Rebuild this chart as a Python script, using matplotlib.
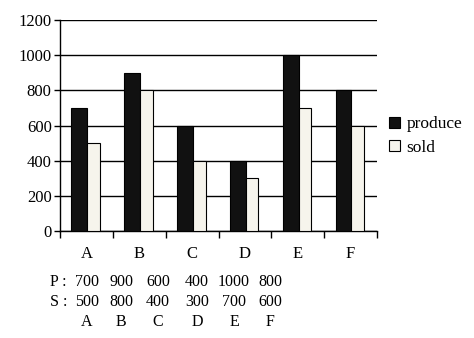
import numpy as np
import matplotlib.pyplot as plt

categories = ['A', 'B', 'C', 'D', 'E', 'F']
produce = [700, 900, 600, 400, 1000, 800]
sold = [500, 800, 400, 300, 700, 600]
yticks = [0, 200, 400, 600, 800, 1000, 1200]

plt.rcParams['font.family'] = ['Liberation Serif', 'DejaVu Serif']

fig = plt.figure(figsize=(4.74, 3.38), dpi=100)
ax = fig.add_axes([60 / 474, 107 / 338, 317 / 474, 211 / 338])

x = np.arange(len(categories))
ax.bar(x - 0.135, produce, width=0.3, color='#111111', edgecolor='black',
       linewidth=0.8, label='produce', zorder=3)
ax.bar(x + 0.135, sold, width=0.24, color='#f6f4ec', edgecolor='black',
       linewidth=0.8, label='sold', zorder=3)

ax.set_xlim(-0.5, len(categories) - 0.5)
ax.set_ylim(0, 1200)
ax.set_yticks(yticks)
ax.tick_params(axis='y', labelsize=12, length=4, width=1, pad=2)
ax.yaxis.grid(True, color='black', linewidth=1)
ax.set_axisbelow(True)

# x ticks at category boundaries, labels centred
ax.set_xticks(np.arange(len(categories) + 1) - 0.5)
ax.set_xticklabels([])
ax.set_xticks(x, minor=True)
ax.set_xticklabels(categories, minor=True, fontsize=12)
ax.tick_params(axis='x', which='major', length=5, width=1)
ax.tick_params(axis='x', which='minor', length=0, pad=11)

for s in ['top', 'right']:
    ax.spines[s].set_visible(False)
for s in ['left', 'bottom']:
    ax.spines[s].set_linewidth(1)

ax.legend(loc='center left', bbox_to_anchor=(1.0, 0.45), frameon=False,
          fontsize=12.5, handlelength=0.6, handleheight=0.6, handletextpad=0.4,
          labelspacing=0.45, borderaxespad=0.3)

# data table under the chart
W, H = 474, 338
cols = [87, 121, 158, 197, 234, 270]
fig.text(50 / W, 1 - 282 / H, 'P :', fontsize=11.5, va='center')
fig.text(50 / W, 1 - 302 / H, 'S :', fontsize=11.5, va='center')
for cx, p, s, c in zip(cols, produce, sold, categories):
    fig.text(cx / W, 1 - 282 / H, str(p), fontsize=11.5, ha='center', va='center')
    fig.text(cx / W, 1 - 302 / H, str(s), fontsize=11.5, ha='center', va='center')
    fig.text(cx / W, 1 - 322 / H, c, fontsize=11.5, ha='center', va='center')

fig.savefig('out.png', dpi=100)
